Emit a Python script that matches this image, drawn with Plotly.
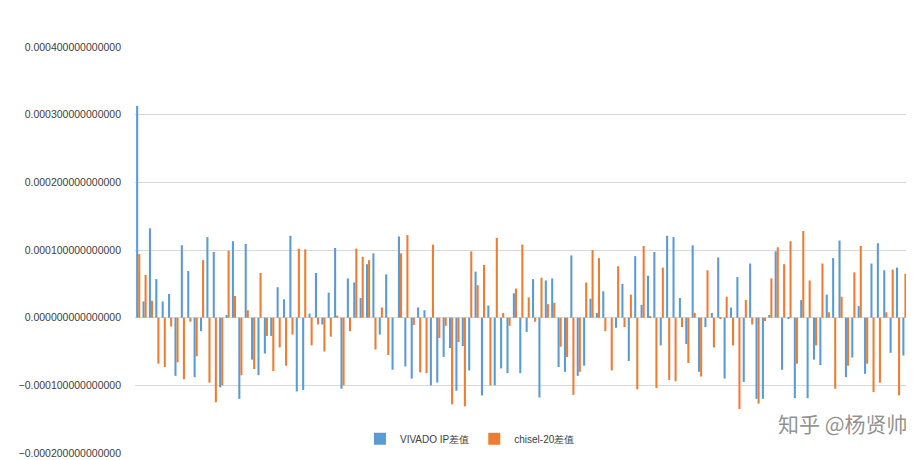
import plotly.graph_objects as go

# values in units of 1e-5
vivado = [
    31.3, 2.4, 13.2, 5.7, 2.4, 3.5, -8.6, 10.7, 6.9, -8.8, -2, 11.9, 9.7, -10.3, 0.4,
    11.3, -12, 10.9, -6.2, -8.5, -5.3, -2.7, 4.5, 2.7, 12.1, -10.9, -10.7, 0.6, 6.6, -1,
    3.7, 10.3, -10.5, 5.8, 5.2, 2.9, 7.9, 9.5, -2.5, 6.4, -7.7, 12, -7.2, -9, 1.5,
    1.1, -10, -9.6, -5.8, -4.5, -10.8, -4.2, -7.8, 6.8, -11.5, 1.8, -10, -7.5, -8.2, 3.6,
    -8.2, -2.1,
    5.7, -11.8, 5.5, 5.8, -7.3, -8, 9.2, -8.6, -7.1, 2.8, 0.7, 3.9, 0, -1.5, 5,
    -6.4, 9.1, 1.9, 6.2, 9.7, -4.1, 12.1, 11.9, 2.9, -3.9, 10.7, -8, -1.4, 0.7, 8.9,
    -9,
    1.5, 6, -9.5, 8, -12, -12, 0.4, 9.8, -7.7, -0.2, -11.9, 2.6, -11.9, -6.2, -7,
    3.4, 8.8, 11.4, -8.8, -5.9, 1.7, -8.3, 8, 11, 7, -5.2, 7.4, -5.6, -7.3,
]
chisel = [
    9.4, 6.3, 2.5, -6.8, -7.3, -1.3, -6.6, -9.1, -0.6, -5.7, 8.5, -9.6, -12.5, -10, 9.9,
    3.2, -8.5, 1.1, -7.6, 6.6, -2.7, -7.9, -4.4, -7.1, -2.5, 10.2, 10.1, -4.1, -1, -5,
    -2.8, 0.3, -10, -2, 10.2, 9, 8.5, -4.7, 1.5, -5.5, 0, 9.5, 12.2, -1.1, -8.1,
    -8.2, 10.8, -3, -1.2, -12.8, -3.6, -13.1, 9.8, 4.8, 7.8, -10, 11.8, 0.7, -1.2, 4.3,
    10.8, 3,
    -0.6, 5.9, 2, 2.2, -4.3, -5.8, -11.4, -8, 5.2, 10, 8.8, -2, -7.8, 7.6, -1.4,
    3.4, -10.6, 10.6, 0.2, -10.4, 7.4, -9.2, -9.4, -1.4, -6.7, 0.7, -8.7, 7, -4.4, -0.2,
    3.1,
    -4.1, -13.5, 2.6, -1, -12.7, -0.5, 5.8, 10.4, 7.9, 11.3, -6.8, 12.8, 5.5, -4.1, 8,
    0.8, -10.5, 3.1, -7.1, 6.7, 10.6, -6.8, -11, -9.6, 0.8, 7.1, -11.5, 6.5, 11.6,
]
x = list(range(1, len(vivado) + 1))

fig = go.Figure()
fig.add_trace(go.Bar(x=x, y=[v * 1e-5 for v in vivado], name="VIVADO IP差值",
                     marker_color="#5B9BD5", marker_line_width=0))
fig.add_trace(go.Bar(x=x, y=[v * 1e-5 for v in chisel], name="chisel-20差值",
                     marker_color="#ED7D31", marker_line_width=0))

# page body has an 8px margin, so the figure is a bit smaller than the window
fig.update_layout(
    width=906, height=452,
    margin=dict(l=127, r=0, t=39, b=7),
    paper_bgcolor="white", plot_bgcolor="white",
    barmode="group", bargap=0.35, bargroupgap=0,
    font=dict(family="Liberation Sans, Arial", size=10, color="#404040"),
    legend=dict(orientation="h", x=0.43, y=0.035, xanchor="center", yanchor="middle",
                font=dict(size=10, color="#404040"), bgcolor="rgba(0,0,0,0)",
                itemwidth=30),
    annotations=[dict(text="知乎 @杨贤帅", x=0.995, y=0.075, xref="paper", yref="paper",
                      xanchor="right", yanchor="middle", showarrow=False,
                      font=dict(family="Noto Sans CJK SC", size=21, color="rgba(110,110,110,0.75)"))],
)
fig.update_xaxes(showticklabels=False, showgrid=False, zeroline=False,
                 range=[0.5, len(x) + 0.5], automargin=False)
fig.update_yaxes(range=[-0.0002, 0.0004], dtick=0.0001, tickformat=".15f",
                 showgrid=True, gridcolor="#D9D9D9", zeroline=False,
                 ticks="", ticklabelstandoff=13, automargin=False,
                 tickfont=dict(size=10.5, color="#404040"))

fig.write_html("out.html")
